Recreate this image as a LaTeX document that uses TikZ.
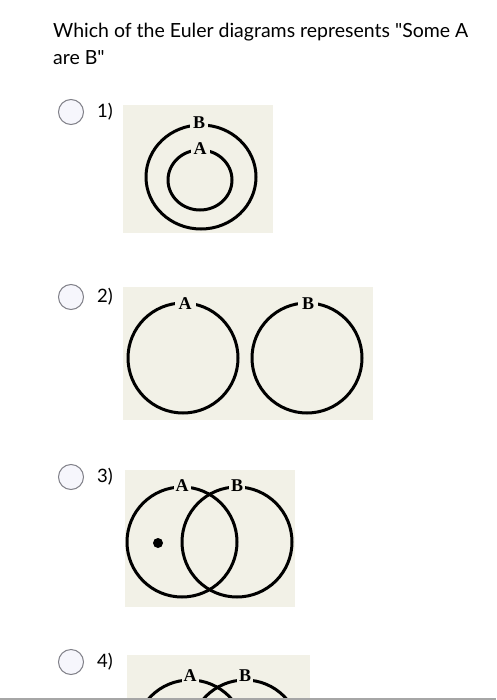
\documentclass[tikz,border=0pt]{standalone}
\usepackage{fontspec}
\setmainfont{Lato}
\newfontfamily\uifont{Lato}
\newfontfamily\setfont{Liberation Serif}
\definecolor{imgbg}{RGB}{242,241,231}
\definecolor{radioedge}{RGB}{128,128,136}
\definecolor{radiofill}{RGB}{246,246,252}
\begin{document}
\begin{tikzpicture}[x=1pt,y=1pt,yscale=-1,xscale=1,
    radio/.style={circle,draw=radioedge,fill=radiofill,line width=1,minimum size=25,inner sep=0},
    optlabel/.style={anchor=west,font=\uifont\fontsize{18.5}{22}\selectfont,inner sep=0},
    question/.style={anchor=base west,inner sep=0,font=\uifont\fontsize{19.5}{24}\selectfont},
    imgbox/.style={fill=imgbg,draw=none},
    setline/.style={line width=3,black},
    setlabel/.style={fill=imgbg,inner sep=1.5,font=\setfont\bfseries\fontsize{18}{18}\selectfont}]
    \useasboundingbox (0,0) rectangle (496,700);
    % question
    \node [question] (q1) at (53,38) {Which of the Euler diagrams represents "Some A};
    \node [question] (q2) at (53,65) {are B"};
    % option 1
    \node [radio] (r1) at (71,112) {};
    \node [optlabel] (o1) at (97,112) {1)};
    \fill [imgbox] (123,105) rectangle (273,233);
    \draw [setline] (201,177) ellipse [x radius=55, y radius=52];
    \draw [setline] (200,180) ellipse [x radius=32, y radius=30];
    \node [setlabel,inner xsep=3] (b1) at (199,123) {B};
    \node [setlabel,inner xsep=3] (a1) at (200,149) {A};
    % option 2
    \node [radio] (r2) at (71,297) {};
    \node [optlabel] (o2) at (97,297) {2)};
    \fill [imgbox] (123,287) rectangle (373,420);
    \draw [setline] (183,358) circle (55);
    \draw [setline] (307,358) circle (55);
    \node [setlabel,inner xsep=4] (a2) at (185,304) {A};
    \node [setlabel,inner xsep=4] (b2) at (308,304) {B};
    % option 3
    \node [radio] (r3) at (71,477) {};
    \node [optlabel] (o3) at (97,477) {3)};
    \fill [imgbox] (125,470) rectangle (295,607);
    \draw [setline] (182,542) circle (55);
    \draw [setline] (237,542) circle (55);
    \node [setlabel,inner xsep=2] (a3) at (182,486) {A};
    \node [setlabel,inner xsep=2] (b3) at (237,486) {B};
    \fill (158,543) circle (5);
    % option 4
    \node [radio] (r4) at (71,662) {};
    \node [optlabel] (o4) at (97,662) {4)};
    \fill [imgbox] (127,655) rectangle (310,700);
    \begin{scope}
        \clip (0,0) rectangle (496,698);
        \draw [setline] (190,735) circle (55);
        \draw [setline] (245,735) circle (55);
        \node [setlabel,inner xsep=2] (a4) at (190,676) {A};
        \node [setlabel,inner xsep=2] (b4) at (245,676) {B};
    \end{scope}
    \draw [line width=2,gray!70] (0,699) -- (496,699);
\end{tikzpicture}
\end{document}
